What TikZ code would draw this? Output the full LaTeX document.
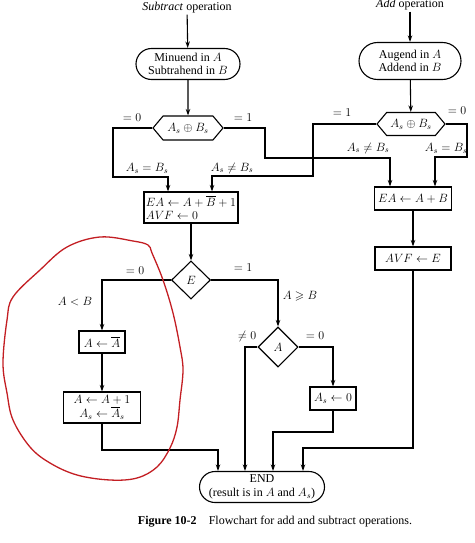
\documentclass[tikz,border=0pt]{standalone}
\usepackage{amssymb}
\usepackage{fontspec}
\setmainfont{Liberation Serif}
\usetikzlibrary{shapes.geometric,shapes.misc,shapes.symbols,arrows.meta}
\definecolor{redpen}{RGB}{195,30,35}
\begin{document}
\begin{tikzpicture}[x=1pt,y=-1pt,
  font=\fontsize{12}{13.5}\selectfont,
  every node/.style={inner sep=1pt},
  line/.style={draw, line width=1.1pt},
  arr/.style={line, -{Stealth[length=6.5pt,width=4.5pt]}},
  procbox/.style={draw, line width=1.1pt, rectangle, inner sep=2pt},
  termbox/.style={draw, line width=1.1pt, rounded rectangle, align=center, inner sep=2pt},
  hexbox/.style={draw, line width=1.1pt, signal, signal to=east and west, signal pointer angle=100, inner sep=2pt},
  decbox/.style={draw, line width=1.1pt, diamond, aspect=1, inner sep=0pt},
  lbl/.style={inner sep=1pt}
]
\useasboundingbox (0,0) rectangle (474,543);

% top texts
\node (subop) at (187,8) {\textit{Subtract} operation};
\node (addop) at (410,5) {\textit{Add} operation};

% terminals
\node[termbox, minimum width=108pt, minimum height=31pt] (minu) at (188,64) {Minuend in $A$\\Subtrahend in $B$};
\node[termbox, minimum width=106pt, minimum height=37pt] (aug) at (410,61) {Augend in $A$\\Addend in $B$};

% hexagons
\node[hexbox, minimum width=70pt, minimum height=24pt] (hexS) at (188,128) {$A_s\oplus B_s$};
\node[hexbox, minimum width=68pt, minimum height=23pt] (hexA) at (411,124) {$A_s\oplus B_s$};

% process boxes
\node[procbox, minimum width=93pt, minimum height=31pt, align=left] (subbox) at (191,207.5) {$EA\leftarrow A+\overline{B}+1$\\$AVF\leftarrow 0$};
\node[procbox, minimum width=77pt, minimum height=23pt] (addbox) at (413,198.5) {$EA\leftarrow A+B$};
\node[procbox, minimum width=76pt, minimum height=23pt] (avf) at (413,258.5) {$AVF\leftarrow E$};

\node[decbox, minimum width=39pt, minimum height=38pt] (E) at (191,280) {$E$};
\node[procbox, minimum width=46pt, minimum height=22pt] (compA) at (102,342) {$A\leftarrow \overline{A}$};
\node[procbox, minimum width=77pt, minimum height=31pt, align=center] (incA) at (102,407.5) {$A\leftarrow A+1$\\$A_s\leftarrow \overline{A}_s$};
\node[decbox, minimum width=40pt, minimum height=40pt] (Adia) at (278,347) {$A$};
\node[procbox, minimum width=46pt, minimum height=23pt] (As0) at (333,398.5) {$A_s\leftarrow 0$};

\node[termbox, minimum width=129pt, minimum height=31pt] (END) at (262,487) {END\\(result is in $A$ and $A_s$)};

% caption
\node (cap) at (275,522) {\textbf{Figure 10-2}\quad Flowchart for add and subtract operations.};

% helper coordinates
\coordinate (s1) at (113,177);
\coordinate (s2) at (168,177);
\coordinate (s3) at (265,158);
\coordinate (s4) at (390,158);
\coordinate (a1) at (313,176);
\coordinate (a2) at (212,176);
\coordinate (a3) at (467,157);
\coordinate (a4) at (435,157);
\coordinate (e1) at (102,450);
\coordinate (e2) at (218,450);
\coordinate (e3) at (245,347);
\coordinate (e4) at (333,432);
\coordinate (e5) at (273,432);
\coordinate (e6) at (413,448);
\coordinate (e7) at (303,448);

% connectors
\draw[arr] (subop) -- (minu);
\draw[arr] (minu) -- (hexS);
\draw[arr] (addop) -- (aug);
\draw[arr] (aug) -- (hexA);

\draw[arr] (hexS.west) -| (s1) -- (s2) -- (s2 |- subbox.north);
\draw[arr] (hexS.east) -| (s3) -- (s4) -- (s4 |- addbox.north);
\draw[arr] (hexA.west) -| (a1) -- (a2) -- (a2 |- subbox.north);
\draw[arr] (hexA.east) -| (a3) -- (a4) -- (a4 |- addbox.north);

\draw[arr] (addbox) -- (avf);
\draw[arr] (subbox) -- (E);
\draw[arr] (E.west) -| (compA.north);
\draw[arr] (E.east) -| (Adia.north);
\draw[arr] (compA) -- (incA);
\draw[arr] (incA.south) -- (e1) -- (e2) -- (e2 |- END.north);
\draw[arr] (Adia.west) -| (e3 |- END.north);
\draw[arr] (Adia.east) -| (As0.north);
\draw[arr] (As0.south) -- (e4) -- (e5) -- (e5 |- END.north);
\draw[arr] (avf.south) -- (e6) -- (e7) -- (e7 |- END.north);

% labels
\node[lbl] (l1) at (132,118) {$=0$};
\node[lbl] (l2) at (243,118) {$=1$};
\node[lbl] (l3) at (147,168) {$A_s=B_s$};
\node[lbl] (l4) at (232,168) {$A_s\neq B_s$};
\node[lbl] (l5) at (342,113) {$=1$};
\node[lbl] (l6) at (457,111) {$=0$};
\node[lbl] (l7) at (368,148) {$A_s\neq B_s$};
\node[lbl] (l8) at (446,148) {$A_s=B_s$};
\node[lbl] (l9) at (135,271) {$=0$};
\node[lbl] (l10) at (243,268) {$=1$};
\node[lbl] (l11) at (75,302) {$A<B$};
\node[lbl] (l12) at (300,296) {$A\geqslant B$};
\node[lbl] (l13) at (247,336) {$\neq 0$};
\node[lbl] (l14) at (315,336) {$=0$};

% red annotation loop
\draw[redpen, line width=1.3pt] plot[smooth cycle, tension=0.6] coordinates {
 (100,237) (133,241) (148,245) (152,253) (163,280) (173,313) (180,347) (183,370)
 (180,400) (177,427) (170,448) (157,467) (137,478) (110,480) (77,475) (50,463)
 (30,447) (13,420) (7,393) (3,363) (7,320) (13,297) (40,270) (67,247)};
\end{tikzpicture}
\end{document}
